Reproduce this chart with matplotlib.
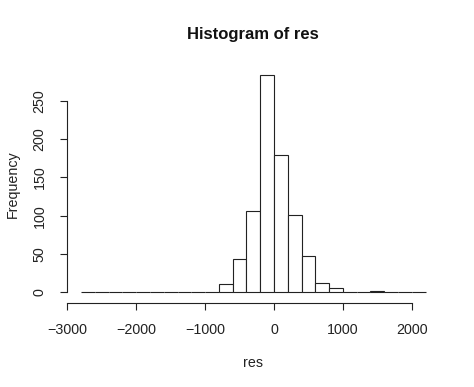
import matplotlib.pyplot as plt
import numpy as np

plt.rcParams['font.family'] = ['Liberation Sans', 'DejaVu Sans']

# histogram of res: bin edges (width 200) and counts
edges = np.arange(-2800, 2201, 200)
counts = [0, 0, 0, 0, 0, 0, 0, 0, 0, 0,
          11, 44, 106, 283, 179, 101, 48, 12, 5, 1, 0, 2, 0, 0, 0]

xticks = [-3000, -2000, -1000, 0, 1000, 2000]
yticks = [0, 50, 100, 150, 200, 250]

fig = plt.figure(figsize=(4.74, 3.87), dpi=100)
W, H = 474, 387
# plot region in pixels (R style, 4% padding on the data range)
x0, x1 = 67.3, 439.4
y0, y1 = 301.0, 66.7
ax = fig.add_axes([x0 / W, 1 - y0 / H, (x1 - x0) / W, (y0 - y1) / H])

ax.bar(edges[:-1], counts, width=200, align='edge',
       facecolor='white', edgecolor='#222222', linewidth=0.8)

xr = edges[-1] - edges[0]
ax.set_xlim(edges[0] - 0.04 * xr, edges[-1] + 0.04 * xr)
ymax = max(counts)
ax.set_ylim(-0.04 * ymax, ymax * 1.04)

for s in ['top', 'right']:
    ax.spines[s].set_visible(False)
ax.spines['bottom'].set_bounds(xticks[0], xticks[-1])
ax.spines['left'].set_bounds(yticks[0], yticks[-1])
ax.spines['bottom'].set_position(('outward', 1.5))
for s in ['bottom', 'left']:
    ax.spines[s].set_linewidth(0.8)
    ax.spines[s].set_color('#222222')

ax.set_xticks(xticks)
ax.set_yticks(yticks)
ax.set_yticklabels([str(v) for v in yticks], rotation=90, va='center')
ax.tick_params(axis='both', length=5, width=0.8, color='#222222',
               labelsize=10.3, labelcolor='#222222')
ax.tick_params(axis='x', pad=9)
ax.tick_params(axis='y', pad=10)

fig.text(0.5 * (x0 + x1) / W, 1 - 34 / H, 'Histogram of res', ha='center',
         va='center', fontsize=12, fontweight='bold', color='#111111')
fig.text(0.5 * (x0 + x1) / W, 1 - 363 / H, 'res', ha='center', va='center',
         fontsize=10.3, color='#222222')
fig.text(13 / W, 1 - 0.5 * (y0 + y1) / H, 'Frequency', ha='center',
         va='center', rotation=90, fontsize=10.3, color='#222222')

fig.savefig('out.png', dpi=100)
